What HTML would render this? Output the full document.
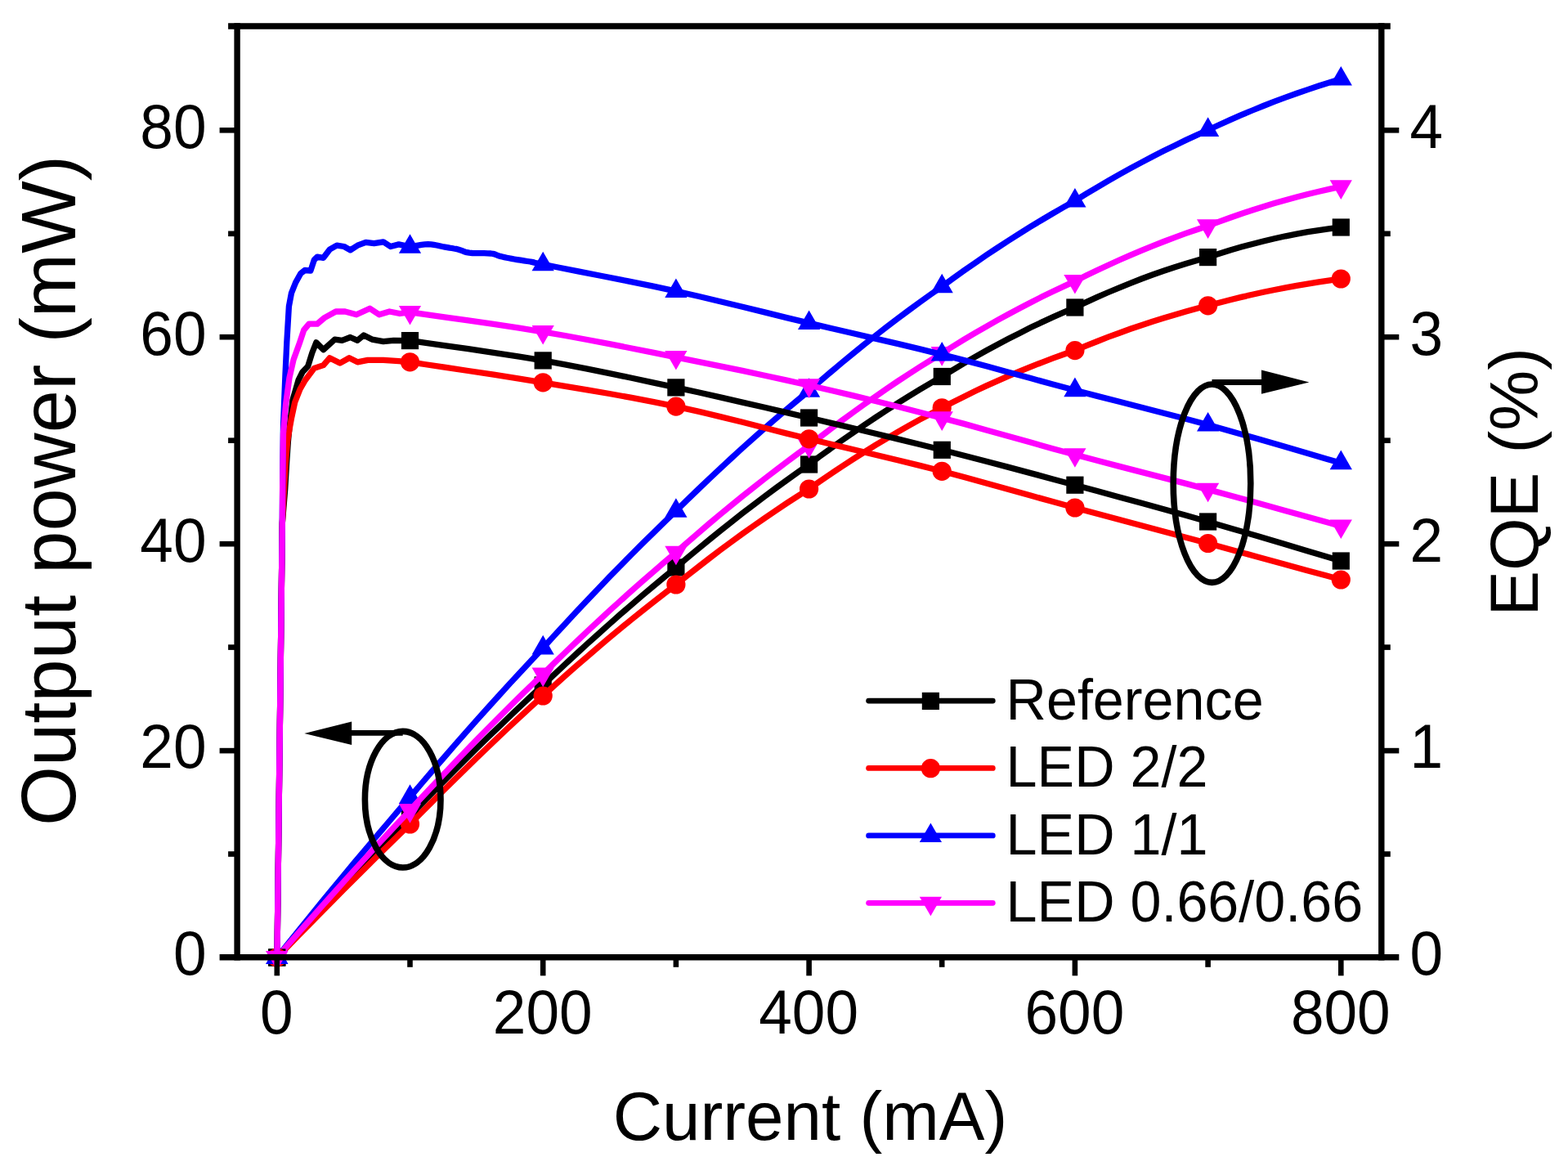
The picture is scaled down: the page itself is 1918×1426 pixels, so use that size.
<!DOCTYPE html>
<html><head><meta charset="utf-8"><title>Output power and EQE vs current</title>
<style>html,body{margin:0;padding:0;background:#fff;}svg{display:block;}text{font-family:"Liberation Sans",Arial,Helvetica,sans-serif;fill:#000;}</style></head><body>
<svg width="1918" height="1426" viewBox="0 0 1918 1426">
<rect width="1918" height="1426" fill="#fff"/>
<polyline points="338.8,1171.0 352.4,1156.0 365.9,1141.0 379.5,1126.2 393.0,1111.5 406.6,1096.9 420.1,1082.4 433.7,1068.0 447.3,1053.8 460.8,1039.6 474.4,1025.6 487.9,1011.8 501.5,998.0 515.0,983.9 528.6,970.0 542.2,956.1 555.7,942.4 569.3,928.9 582.8,915.5 596.4,902.2 610.0,889.1 623.5,876.1 637.1,863.2 650.6,850.5 664.2,838.0 677.7,825.1 691.3,812.4 704.9,799.8 718.4,787.4 732.0,775.2 745.5,763.1 759.1,751.1 772.6,739.4 786.2,727.8 799.8,716.4 813.3,705.1 826.9,694.0 840.4,682.5 854.0,671.2 867.5,660.1 881.1,649.1 894.7,638.3 908.2,627.7 921.8,617.3 935.3,607.1 948.9,597.0 962.4,587.2 976.0,577.5 989.6,568.0 1003.1,557.9 1016.7,548.1 1030.2,538.4 1043.8,529.0 1057.3,519.7 1070.9,510.6 1084.5,501.8 1098.0,493.1 1111.6,484.6 1125.1,476.4 1138.7,468.3 1152.2,460.5 1165.8,452.3 1179.4,444.2 1192.9,436.4 1206.5,428.8 1220.0,421.5 1233.6,414.3 1247.2,407.4 1260.7,400.6 1274.3,394.1 1287.8,387.9 1301.4,381.8 1314.9,376.0 1328.5,369.6 1342.1,363.4 1355.6,357.5 1369.2,351.8 1382.7,346.3 1396.3,341.0 1409.8,336.0 1423.4,331.3 1437.0,326.7 1450.5,322.5 1464.1,318.4 1477.6,314.6 1491.2,310.2 1504.7,306.0 1518.3,302.1 1531.9,298.4 1545.4,295.0 1559.0,291.8 1572.5,288.8 1586.1,286.2 1599.6,283.7 1613.2,281.6 1626.8,279.7 1640.3,278.0" fill="none" stroke="#000000" stroke-width="7.3" stroke-linejoin="round" stroke-linecap="round"/><rect x="328.2" y="1160.4" width="21.2" height="21.2" fill="#000000"/><rect x="490.9" y="987.4" width="21.2" height="21.2" fill="#000000"/><rect x="653.6" y="827.4" width="21.2" height="21.2" fill="#000000"/><rect x="816.3" y="683.4" width="21.2" height="21.2" fill="#000000"/><rect x="979.0" y="557.4" width="21.2" height="21.2" fill="#000000"/><rect x="1141.7" y="449.9" width="21.2" height="21.2" fill="#000000"/><rect x="1304.3" y="365.4" width="21.2" height="21.2" fill="#000000"/><rect x="1467.0" y="304.0" width="21.2" height="21.2" fill="#000000"/><rect x="1629.7" y="267.4" width="21.2" height="21.2" fill="#000000"/>
<polyline points="338.8,1171.0 352.4,1157.1 365.9,1143.2 379.5,1129.4 393.0,1115.6 406.6,1101.9 420.1,1088.3 433.7,1074.7 447.3,1061.2 460.8,1047.7 474.4,1034.4 487.9,1021.1 501.5,1008.0 515.0,994.2 528.6,980.6 542.2,967.0 555.7,953.6 569.3,940.3 582.8,927.1 596.4,914.1 610.0,901.2 623.5,888.4 637.1,875.8 650.6,863.3 664.2,851.0 677.7,838.7 691.3,826.6 704.9,814.6 718.4,802.9 732.0,791.2 745.5,779.8 759.1,768.5 772.6,757.5 786.2,746.6 799.8,735.9 813.3,725.3 826.9,715.0 840.4,704.1 854.0,693.5 867.5,683.0 881.1,672.7 894.7,662.6 908.2,652.8 921.8,643.1 935.3,633.7 948.9,624.4 962.4,615.4 976.0,606.6 989.6,598.0 1003.1,588.5 1016.7,579.3 1030.2,570.2 1043.8,561.4 1057.3,552.8 1070.9,544.4 1084.5,536.3 1098.0,528.4 1111.6,520.6 1125.1,513.1 1138.7,505.9 1152.2,498.8 1165.8,491.8 1179.4,484.9 1192.9,478.3 1206.5,471.9 1220.0,465.8 1233.6,459.8 1247.2,454.1 1260.7,448.6 1274.3,443.3 1287.8,438.2 1301.4,433.3 1314.9,428.6 1328.5,422.9 1342.1,417.5 1355.6,412.2 1369.2,407.2 1382.7,402.3 1396.3,397.7 1409.8,393.2 1423.4,389.0 1437.0,384.9 1450.5,381.0 1464.1,377.3 1477.6,373.8 1491.2,370.2 1504.7,366.7 1518.3,363.4 1531.9,360.3 1545.4,357.3 1559.0,354.5 1572.5,351.9 1586.1,349.4 1599.6,347.1 1613.2,344.9 1626.8,342.9 1640.3,341.0" fill="none" stroke="#ff0000" stroke-width="7.3" stroke-linejoin="round" stroke-linecap="round"/><circle cx="338.8" cy="1171.0" r="11.6" fill="#ff0000"/><circle cx="501.5" cy="1008.0" r="11.6" fill="#ff0000"/><circle cx="664.2" cy="851.0" r="11.6" fill="#ff0000"/><circle cx="826.9" cy="715.0" r="11.6" fill="#ff0000"/><circle cx="989.6" cy="598.0" r="11.6" fill="#ff0000"/><circle cx="1152.2" cy="498.8" r="11.6" fill="#ff0000"/><circle cx="1314.9" cy="428.6" r="11.6" fill="#ff0000"/><circle cx="1477.6" cy="373.8" r="11.6" fill="#ff0000"/><circle cx="1640.3" cy="341.0" r="11.6" fill="#ff0000"/>
<polyline points="338.8,1171.0 352.4,1154.1 365.9,1137.3 379.5,1120.5 393.0,1103.9 406.6,1087.4 420.1,1071.0 433.7,1054.7 447.3,1038.5 460.8,1022.5 474.4,1006.5 487.9,990.7 501.5,975.0 515.0,959.0 528.6,943.2 542.2,927.5 555.7,911.9 569.3,896.4 582.8,881.1 596.4,866.0 610.0,851.0 623.5,836.1 637.1,821.4 650.6,806.9 664.2,792.5 677.7,777.6 691.3,762.9 704.9,748.3 718.4,733.9 732.0,719.7 745.5,705.6 759.1,691.7 772.6,678.0 786.2,664.4 799.8,651.1 813.3,637.9 826.9,624.9 840.4,611.6 854.0,598.5 867.5,585.6 881.1,572.8 894.7,560.3 908.2,547.9 921.8,535.8 935.3,523.8 948.9,512.0 962.4,500.5 976.0,489.1 989.6,477.9 1003.1,466.2 1016.7,454.6 1030.2,443.3 1043.8,432.1 1057.3,421.2 1070.9,410.5 1084.5,399.9 1098.0,389.6 1111.6,379.5 1125.1,369.6 1138.7,359.9 1152.2,350.4 1165.8,340.5 1179.4,330.8 1192.9,321.4 1206.5,312.1 1220.0,303.1 1233.6,294.2 1247.2,285.6 1260.7,277.2 1274.3,269.0 1287.8,261.0 1301.4,253.2 1314.9,245.6 1328.5,237.2 1342.1,229.1 1355.6,221.1 1369.2,213.4 1382.7,205.9 1396.3,198.6 1409.8,191.5 1423.4,184.6 1437.0,177.9 1450.5,171.4 1464.1,165.1 1477.6,159.0 1491.2,152.7 1504.7,146.6 1518.3,140.7 1531.9,135.0 1545.4,129.5 1559.0,124.2 1572.5,119.2 1586.1,114.3 1599.6,109.6 1613.2,105.0 1626.8,100.7 1640.3,96.6" fill="none" stroke="#0000ff" stroke-width="7.3" stroke-linejoin="round" stroke-linecap="round"/><polygon points="338.8,1155.3 352.4,1178.9 325.2,1178.9" fill="#0000ff"/><polygon points="501.5,959.3 515.1,982.9 487.9,982.9" fill="#0000ff"/><polygon points="664.2,776.8 677.8,800.4 650.6,800.4" fill="#0000ff"/><polygon points="826.9,609.2 840.5,632.8 813.3,632.8" fill="#0000ff"/><polygon points="989.6,462.2 1003.2,485.8 976.0,485.8" fill="#0000ff"/><polygon points="1152.2,334.7 1165.8,358.3 1138.7,358.3" fill="#0000ff"/><polygon points="1314.9,229.9 1328.5,253.5 1301.3,253.5" fill="#0000ff"/><polygon points="1477.6,143.3 1491.2,166.9 1464.0,166.9" fill="#0000ff"/><polygon points="1640.3,80.9 1653.9,104.5 1626.7,104.5" fill="#0000ff"/>
<polyline points="338.8,1171.0 352.4,1155.4 365.9,1139.9 379.5,1124.5 393.0,1109.2 406.6,1094.0 420.1,1078.9 433.7,1063.9 447.3,1049.1 460.8,1034.4 474.4,1019.8 487.9,1005.3 501.5,991.0 515.0,976.3 528.6,961.8 542.2,947.4 555.7,933.2 569.3,919.1 582.8,905.1 596.4,891.3 610.0,877.6 623.5,864.1 637.1,850.7 650.6,837.5 664.2,824.5 677.7,811.2 691.3,798.0 704.9,785.0 718.4,772.1 732.0,759.5 745.5,746.9 759.1,734.6 772.6,722.5 786.2,710.5 799.8,698.7 813.3,687.0 826.9,675.6 840.4,663.7 854.0,651.9 867.5,640.4 881.1,629.0 894.7,617.9 908.2,606.9 921.8,596.1 935.3,585.5 948.9,575.1 962.4,564.8 976.0,554.8 989.6,545.0 1003.1,534.5 1016.7,524.1 1030.2,514.0 1043.8,504.1 1057.3,494.4 1070.9,484.9 1084.5,475.5 1098.0,466.4 1111.6,457.5 1125.1,448.8 1138.7,440.3 1152.2,432.0 1165.8,423.5 1179.4,415.2 1192.9,407.2 1206.5,399.3 1220.0,391.6 1233.6,384.2 1247.2,377.0 1260.7,369.9 1274.3,363.1 1287.8,356.5 1301.4,350.1 1314.9,343.9 1328.5,337.1 1342.1,330.5 1355.6,324.2 1369.2,318.0 1382.7,312.1 1396.3,306.3 1409.8,300.8 1423.4,295.5 1437.0,290.3 1450.5,285.4 1464.1,280.7 1477.6,276.2 1491.2,271.1 1504.7,266.2 1518.3,261.5 1531.9,257.0 1545.4,252.7 1559.0,248.6 1572.5,244.7 1586.1,241.0 1599.6,237.5 1613.2,234.2 1626.8,231.1 1640.3,228.2" fill="none" stroke="#ff00ff" stroke-width="7.3" stroke-linejoin="round" stroke-linecap="round"/><polygon points="338.8,1186.7 352.4,1163.1 325.2,1163.1" fill="#ff00ff"/><polygon points="501.5,1006.7 515.1,983.1 487.9,983.1" fill="#ff00ff"/><polygon points="664.2,840.2 677.8,816.6 650.6,816.6" fill="#ff00ff"/><polygon points="826.9,691.3 840.5,667.7 813.3,667.7" fill="#ff00ff"/><polygon points="989.6,560.7 1003.2,537.1 976.0,537.1" fill="#ff00ff"/><polygon points="1152.2,447.7 1165.8,424.1 1138.7,424.1" fill="#ff00ff"/><polygon points="1314.9,359.6 1328.5,336.0 1301.3,336.0" fill="#ff00ff"/><polygon points="1477.6,291.9 1491.2,268.3 1464.0,268.3" fill="#ff00ff"/><polygon points="1640.3,243.9 1653.9,220.3 1626.7,220.3" fill="#ff00ff"/>
<polyline points="339.0,1170.0 345.3,640.0 348.6,600.0 350.6,566.0 352.4,540.0 353.9,524.0 358.0,489.0 365.0,465.0 370.0,455.0 376.7,447.9 381.8,431.5 386.8,418.9 395.6,427.7 409.5,415.1 418.4,416.3 428.5,412.5 437.3,416.3 444.9,410.0 455.0,415.1 468.9,417.6 481.5,416.3 501.5,416.6 519.2,419.1 543.7,422.6 572.7,426.7 603.9,431.3 635.2,436.1 664.2,440.9 691.3,445.8 718.4,451.1 745.5,456.6 772.6,462.3 799.8,468.1 826.9,473.9 854.0,479.8 881.1,485.9 908.2,492.1 935.3,498.3 962.4,504.6 989.6,511.0 1016.7,517.4 1043.8,523.8 1070.9,530.3 1098.0,536.9 1125.1,543.5 1152.2,550.3 1179.4,557.2 1206.5,564.3 1233.6,571.4 1260.7,578.6 1287.8,585.9 1314.9,593.2 1342.1,600.5 1369.2,607.9 1396.3,615.3 1423.4,622.8 1450.5,630.3 1477.6,638.0 1506.6,646.4 1537.9,655.5 1569.1,664.8 1598.1,673.4 1622.6,680.7 1640.3,686.0" fill="none" stroke="#000000" stroke-width="7.3" stroke-linejoin="round" stroke-linecap="round"/><rect x="328.2" y="1160.4" width="21.2" height="21.2" fill="#000000"/><rect x="490.9" y="406.0" width="21.2" height="21.2" fill="#000000"/><rect x="653.6" y="430.3" width="21.2" height="21.2" fill="#000000"/><rect x="816.3" y="463.3" width="21.2" height="21.2" fill="#000000"/><rect x="979.0" y="500.4" width="21.2" height="21.2" fill="#000000"/><rect x="1141.7" y="539.7" width="21.2" height="21.2" fill="#000000"/><rect x="1304.3" y="582.6" width="21.2" height="21.2" fill="#000000"/><rect x="1467.0" y="627.4" width="21.2" height="21.2" fill="#000000"/><rect x="1629.7" y="675.4" width="21.2" height="21.2" fill="#000000"/>
<polyline points="339.0,1170.0 345.3,640.0 347.4,600.0 349.3,566.0 351.6,540.0 354.6,522.0 356.4,512.0 360.7,492.0 367.0,476.0 373.3,465.0 384.3,450.4 395.6,446.6 403.2,437.8 415.8,444.1 427.2,437.8 437.3,442.8 449.9,440.3 468.9,440.3 487.8,441.6 501.5,442.8 519.2,445.5 543.7,449.1 572.7,453.5 603.9,458.2 635.2,463.1 664.2,467.8 691.3,472.3 718.4,476.9 745.5,481.5 772.6,486.4 799.8,491.6 826.9,497.1 854.0,503.1 881.1,509.6 908.2,516.3 935.3,523.2 962.4,530.1 989.6,536.8 1016.7,543.3 1043.8,549.8 1070.9,556.2 1098.0,562.8 1125.1,569.4 1152.2,576.3 1179.4,583.5 1206.5,590.9 1233.6,598.4 1260.7,606.0 1287.8,613.6 1314.9,621.0 1342.1,628.3 1369.2,635.6 1396.3,642.8 1423.4,650.0 1450.5,657.2 1477.6,664.5 1506.6,672.4 1537.9,680.9 1569.1,689.5 1598.1,697.4 1622.6,704.1 1640.3,709.0" fill="none" stroke="#ff0000" stroke-width="7.3" stroke-linejoin="round" stroke-linecap="round"/><circle cx="338.8" cy="1171.0" r="11.6" fill="#ff0000"/><circle cx="501.5" cy="442.8" r="11.6" fill="#ff0000"/><circle cx="664.2" cy="467.8" r="11.6" fill="#ff0000"/><circle cx="826.9" cy="497.1" r="11.6" fill="#ff0000"/><circle cx="989.6" cy="536.8" r="11.6" fill="#ff0000"/><circle cx="1152.2" cy="576.3" r="11.6" fill="#ff0000"/><circle cx="1314.9" cy="621.0" r="11.6" fill="#ff0000"/><circle cx="1477.6" cy="664.5" r="11.6" fill="#ff0000"/><circle cx="1640.3" cy="709.0" r="11.6" fill="#ff0000"/>
<polyline points="339.0,1170.0 345.3,640.0 346.0,560.0 346.5,520.0 348.9,460.0 350.8,418.9 353.4,374.7 356.5,358.3 361.6,345.6 367.9,334.3 372.9,330.5 379.9,331.1 384.3,317.9 388.1,314.1 395.6,315.3 403.2,305.2 412.0,300.2 420.9,301.5 428.5,305.9 437.3,300.2 447.4,296.4 457.5,297.7 468.9,295.8 477.7,301.5 487.8,298.9 501.5,301.9 503.9,301.5 507.3,300.8 511.3,300.1 515.5,299.4 519.7,298.9 523.6,298.7 527.2,298.9 530.7,299.4 534.3,300.0 537.7,300.8 541.0,301.5 544.2,302.1 547.2,302.6 550.0,303.1 552.7,303.5 555.3,304.0 557.8,304.4 560.3,305.0 562.6,305.7 564.6,306.4 566.5,307.2 568.6,308.0 571.0,308.7 574.0,309.2 577.8,309.5 582.4,309.6 587.3,309.6 592.2,309.7 596.7,309.8 600.4,310.0 603.1,310.4 605.1,310.9 606.7,311.5 608.2,312.2 609.8,312.8 611.9,313.4 614.4,314.0 617.0,314.6 619.8,315.2 622.7,315.8 625.8,316.4 629.1,317.0 632.7,317.6 636.7,318.2 640.9,318.9 644.9,319.5 648.7,320.0 652.0,320.6 652.9,320.8 651.3,320.5 649.4,320.2 649.4,320.3 653.6,321.2 664.2,323.4 682.6,327.0 707.3,331.9 736.1,337.5 767.1,343.6 798.0,349.9 826.9,356.1 854.0,362.2 881.1,368.7 908.2,375.2 935.3,381.9 962.4,388.6 989.6,395.1 1016.7,401.5 1043.8,407.8 1070.9,414.1 1098.0,420.4 1125.1,426.9 1152.2,433.6 1179.4,440.6 1206.5,447.8 1233.6,455.2 1260.7,462.6 1287.8,470.0 1314.9,477.3 1342.1,484.4 1369.2,491.3 1396.3,498.3 1423.4,505.2 1450.5,512.3 1477.6,519.6 1506.6,527.7 1537.9,536.6 1569.1,545.6 1598.1,554.0 1622.6,561.2 1640.3,566.3" fill="none" stroke="#0000ff" stroke-width="7.3" stroke-linejoin="round" stroke-linecap="round"/><polygon points="338.8,1155.3 352.4,1178.9 325.2,1178.9" fill="#0000ff"/><polygon points="501.5,286.2 515.1,309.8 487.9,309.8" fill="#0000ff"/><polygon points="664.2,307.7 677.8,331.3 650.6,331.3" fill="#0000ff"/><polygon points="826.9,340.4 840.5,364.0 813.3,364.0" fill="#0000ff"/><polygon points="989.6,379.4 1003.2,403.0 976.0,403.0" fill="#0000ff"/><polygon points="1152.2,417.9 1165.8,441.5 1138.7,441.5" fill="#0000ff"/><polygon points="1314.9,461.6 1328.5,485.2 1301.3,485.2" fill="#0000ff"/><polygon points="1477.6,503.9 1491.2,527.5 1464.0,527.5" fill="#0000ff"/><polygon points="1640.3,550.6 1653.9,574.2 1626.7,574.2" fill="#0000ff"/>
<polyline points="339.0,1170.0 345.3,640.0 345.6,600.0 346.5,530.0 349.5,495.0 354.0,462.0 359.0,440.0 366.6,418.9 371.7,403.7 378.0,396.1 388.1,396.1 396.9,388.6 410.8,381.0 422.1,381.0 436.0,384.8 452.4,377.2 463.8,384.8 476.4,381.0 489.0,383.5 501.5,381.8 519.2,384.3 543.7,387.8 572.7,391.9 603.9,396.4 635.2,401.1 664.2,405.8 691.3,410.5 718.4,415.5 745.5,420.6 772.6,426.0 799.8,431.4 826.9,436.8 854.0,442.3 881.1,447.8 908.2,453.4 935.3,459.2 962.4,465.1 989.6,471.2 1016.7,477.5 1043.8,483.9 1070.9,490.5 1098.0,497.3 1125.1,504.2 1152.2,511.2 1179.4,518.4 1206.5,525.9 1233.6,533.5 1260.7,541.1 1287.8,548.7 1314.9,556.1 1342.1,563.3 1369.2,570.4 1396.3,577.4 1423.4,584.4 1450.5,591.4 1477.6,598.6 1506.6,606.5 1537.9,615.0 1569.1,623.7 1598.1,631.7 1622.6,638.5 1640.3,643.4" fill="none" stroke="#ff00ff" stroke-width="7.3" stroke-linejoin="round" stroke-linecap="round"/><polygon points="338.8,1186.7 352.4,1163.1 325.2,1163.1" fill="#ff00ff"/><polygon points="501.5,397.5 515.1,373.9 487.9,373.9" fill="#ff00ff"/><polygon points="664.2,421.5 677.8,397.9 650.6,397.9" fill="#ff00ff"/><polygon points="826.9,452.5 840.5,428.9 813.3,428.9" fill="#ff00ff"/><polygon points="989.6,486.9 1003.2,463.3 976.0,463.3" fill="#ff00ff"/><polygon points="1152.2,526.9 1165.8,503.3 1138.7,503.3" fill="#ff00ff"/><polygon points="1314.9,571.8 1328.5,548.2 1301.3,548.2" fill="#ff00ff"/><polygon points="1477.6,614.3 1491.2,590.7 1464.0,590.7" fill="#ff00ff"/><polygon points="1640.3,659.1 1653.9,635.5 1626.7,635.5" fill="#ff00ff"/>
<g>
<line x1="279.1" y1="32.0" x2="1700.8" y2="32.0" stroke="#000" stroke-width="7.4" stroke-linecap="butt"/>
<line x1="268.6" y1="1170.8" x2="1711.3" y2="1170.8" stroke="#000" stroke-width="7.4" stroke-linecap="butt"/>
<line x1="290.1" y1="28.3" x2="290.1" y2="1174.5" stroke="#000" stroke-width="7.4" stroke-linecap="butt"/>
<line x1="1689.8" y1="28.3" x2="1689.8" y2="1174.5" stroke="#000" stroke-width="7.4" stroke-linecap="butt"/>
<line x1="279.1" y1="1044.5" x2="290.1" y2="1044.5" stroke="#000" stroke-width="6.6" stroke-linecap="butt"/>
<line x1="1689.8" y1="1044.5" x2="1700.8" y2="1044.5" stroke="#000" stroke-width="6.6" stroke-linecap="butt"/>
<line x1="268.6" y1="918.1" x2="290.1" y2="918.1" stroke="#000" stroke-width="6.6" stroke-linecap="butt"/>
<line x1="1689.8" y1="918.1" x2="1711.3" y2="918.1" stroke="#000" stroke-width="6.6" stroke-linecap="butt"/>
<line x1="279.1" y1="791.6" x2="290.1" y2="791.6" stroke="#000" stroke-width="6.6" stroke-linecap="butt"/>
<line x1="1689.8" y1="791.6" x2="1700.8" y2="791.6" stroke="#000" stroke-width="6.6" stroke-linecap="butt"/>
<line x1="268.6" y1="665.2" x2="290.1" y2="665.2" stroke="#000" stroke-width="6.6" stroke-linecap="butt"/>
<line x1="1689.8" y1="665.2" x2="1711.3" y2="665.2" stroke="#000" stroke-width="6.6" stroke-linecap="butt"/>
<line x1="279.1" y1="538.7" x2="290.1" y2="538.7" stroke="#000" stroke-width="6.6" stroke-linecap="butt"/>
<line x1="1689.8" y1="538.7" x2="1700.8" y2="538.7" stroke="#000" stroke-width="6.6" stroke-linecap="butt"/>
<line x1="268.6" y1="412.2" x2="290.1" y2="412.2" stroke="#000" stroke-width="6.6" stroke-linecap="butt"/>
<line x1="1689.8" y1="412.2" x2="1711.3" y2="412.2" stroke="#000" stroke-width="6.6" stroke-linecap="butt"/>
<line x1="279.1" y1="285.8" x2="290.1" y2="285.8" stroke="#000" stroke-width="6.6" stroke-linecap="butt"/>
<line x1="1689.8" y1="285.8" x2="1700.8" y2="285.8" stroke="#000" stroke-width="6.6" stroke-linecap="butt"/>
<line x1="268.6" y1="159.3" x2="290.1" y2="159.3" stroke="#000" stroke-width="6.6" stroke-linecap="butt"/>
<line x1="1689.8" y1="159.3" x2="1711.3" y2="159.3" stroke="#000" stroke-width="6.6" stroke-linecap="butt"/>
<line x1="338.8" y1="1170.8" x2="338.8" y2="1193.3" stroke="#000" stroke-width="6.6" stroke-linecap="butt"/>
<line x1="501.5" y1="1170.8" x2="501.5" y2="1182.8" stroke="#000" stroke-width="6.6" stroke-linecap="butt"/>
<line x1="664.2" y1="1170.8" x2="664.2" y2="1193.3" stroke="#000" stroke-width="6.6" stroke-linecap="butt"/>
<line x1="826.9" y1="1170.8" x2="826.9" y2="1182.8" stroke="#000" stroke-width="6.6" stroke-linecap="butt"/>
<line x1="989.6" y1="1170.8" x2="989.6" y2="1193.3" stroke="#000" stroke-width="6.6" stroke-linecap="butt"/>
<line x1="1152.2" y1="1170.8" x2="1152.2" y2="1182.8" stroke="#000" stroke-width="6.6" stroke-linecap="butt"/>
<line x1="1314.9" y1="1170.8" x2="1314.9" y2="1193.3" stroke="#000" stroke-width="6.6" stroke-linecap="butt"/>
<line x1="1477.6" y1="1170.8" x2="1477.6" y2="1182.8" stroke="#000" stroke-width="6.6" stroke-linecap="butt"/>
<line x1="1640.3" y1="1170.8" x2="1640.3" y2="1193.3" stroke="#000" stroke-width="6.6" stroke-linecap="butt"/>
</g>
<text transform="translate(252.5,1192.3) scale(1,1.035)" font-size="73" text-anchor="end">0</text>
<text transform="translate(252.5,939.4) scale(1,1.035)" font-size="73" text-anchor="end">20</text>
<text transform="translate(252.5,686.5) scale(1,1.035)" font-size="73" text-anchor="end">40</text>
<text transform="translate(252.5,433.5) scale(1,1.035)" font-size="73" text-anchor="end">60</text>
<text transform="translate(252.5,180.6) scale(1,1.035)" font-size="73" text-anchor="end">80</text>
<text transform="translate(1724.5,1192.3) scale(1,1.035)" font-size="73">0</text>
<text transform="translate(1724.5,939.4) scale(1,1.035)" font-size="73">1</text>
<text transform="translate(1724.5,686.5) scale(1,1.035)" font-size="73">2</text>
<text transform="translate(1724.5,433.5) scale(1,1.035)" font-size="73">3</text>
<text transform="translate(1724.5,180.6) scale(1,1.035)" font-size="73">4</text>
<text transform="translate(338.3,1263.6) scale(1,1.035)" font-size="73" text-anchor="middle">0</text>
<text transform="translate(663.7,1263.6) scale(1,1.035)" font-size="73" text-anchor="middle">200</text>
<text transform="translate(989.1,1263.6) scale(1,1.035)" font-size="73" text-anchor="middle">400</text>
<text transform="translate(1314.4,1263.6) scale(1,1.035)" font-size="73" text-anchor="middle">600</text>
<text transform="translate(1639.8,1263.6) scale(1,1.035)" font-size="73" text-anchor="middle">800</text>
<text transform="translate(991.0,1394.0)" font-size="83.5" text-anchor="middle">Current (mA)</text>
<text transform="translate(91.5,600.0) rotate(-90)" font-size="94" text-anchor="middle">Output power (mW)</text>
<text transform="translate(1881.4,589.2) rotate(-90)" font-size="83.3" text-anchor="middle">EQE (%)</text>
<ellipse cx="1482.5" cy="591.2" rx="47.3" ry="121.2" fill="none" stroke="#000" stroke-width="7.6"/>
<line x1="1482.5" y1="467.4" x2="1546.0" y2="467.4" stroke="#000" stroke-width="7.0" stroke-linecap="butt"/>
<polygon points="1543,452.5 1601.4,467.6 1543,481.7" fill="#000"/>
<ellipse cx="492.7" cy="977.7" rx="46.3" ry="83.3" fill="none" stroke="#000" stroke-width="7.6"/>
<line x1="492.7" y1="896.3" x2="427.0" y2="896.3" stroke="#000" stroke-width="6.8" stroke-linecap="butt"/>
<polygon points="430.2,882.4 372.3,897 430.2,910.9" fill="#000"/>
<line x1="1062.6" y1="857.1" x2="1214.3" y2="857.1" stroke="#000000" stroke-width="6.8" stroke-linecap="round"/>
<rect x="1127.8" y="846.8" width="21.2" height="21.2" fill="#000000"/>
<text transform="translate(1230.6,879.8) scale(1,1.020)" font-size="68.3">Reference</text>
<line x1="1062.6" y1="939.4" x2="1214.3" y2="939.4" stroke="#ff0000" stroke-width="6.8" stroke-linecap="round"/>
<circle cx="1138.4" cy="939.7" r="11.6" fill="#ff0000"/>
<text transform="translate(1230.6,962.1) scale(1,1.035)" font-size="68.3">LED 2/2</text>
<line x1="1062.6" y1="1021.9" x2="1214.3" y2="1021.9" stroke="#0000ff" stroke-width="6.8" stroke-linecap="round"/>
<polygon points="1138.4,1006.5 1152.0,1030.1 1124.8,1030.1" fill="#0000ff"/>
<text transform="translate(1230.6,1044.6) scale(1,1.035)" font-size="68.3">LED 1/1</text>
<line x1="1062.6" y1="1104.3" x2="1214.3" y2="1104.3" stroke="#ff00ff" stroke-width="6.8" stroke-linecap="round"/>
<polygon points="1138.4,1120.3 1152.0,1096.7 1124.8,1096.7" fill="#ff00ff"/>
<text transform="translate(1230.6,1127.0) scale(1,1.035)" font-size="68.3">LED 0.66/0.66</text>
</svg></body></html>
